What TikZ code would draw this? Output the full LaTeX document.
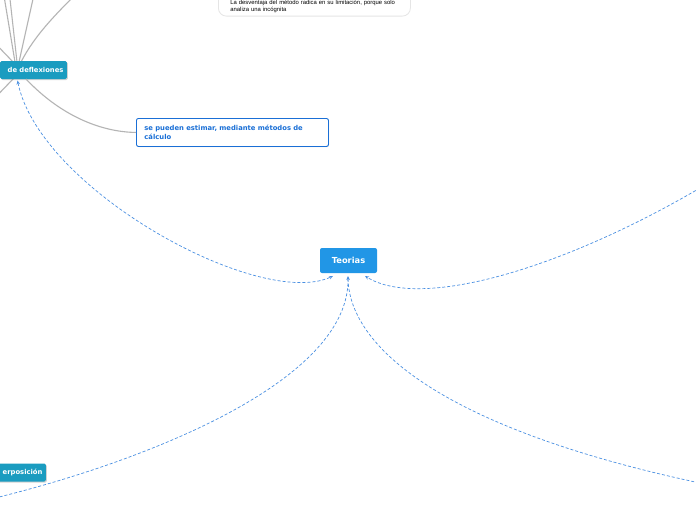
\documentclass[tikz,border=0pt]{standalone}
\usepackage{fontspec}
\setmainfont{DejaVu Sans}
\newfontfamily\smallfont{Liberation Sans}
\usetikzlibrary{arrows.meta,shadows}
\definecolor{tealbox}{HTML}{1A9CC0}
\definecolor{bluebox}{HTML}{2196E6}
\definecolor{blueline}{HTML}{4A90E2}
\definecolor{bluetext}{HTML}{1A6FD6}
\definecolor{grayline}{HTML}{B4B4B4}
\tikzset{
  topic/.style={fill=tealbox, text=white, font=\bfseries\fontsize{6.8}{7.5}\selectfont,
    rounded corners=1.5pt, inner ysep=0pt, minimum height=18pt,
    drop shadow={shadow xshift=1pt, shadow yshift=-1pt, opacity=0.35}},
  mainbox/.style={fill=bluebox, text=white, font=\bfseries\fontsize{8.3}{9}\selectfont,
    rounded corners=2pt, minimum width=57pt, minimum height=25pt, inner sep=0pt},
  subbox/.style={draw=bluetext, line width=0.9pt, fill=white, text=bluetext,
    font=\bfseries\fontsize{6.8}{8.5}\selectfont, rounded corners=2pt,
    minimum width=192pt, minimum height=28pt, text width=176pt, align=left,
    inner xsep=8pt, drop shadow={shadow xshift=0.6pt, shadow yshift=-0.6pt, opacity=0.25}},
  notebox/.style={draw=black!10, line width=0.8pt, rounded corners=8pt,
    font=\smallfont\fontsize{5.9}{7}\selectfont, text width=168pt, align=left,
    inner xsep=12pt, inner ysep=3pt},
  branch/.style={draw=grayline, line width=1.1pt},
  rel/.style={draw=blueline, line width=0.7pt, dash pattern=on 3pt off 2pt,
    -{Stealth[length=4pt,width=3.5pt,open]}},
  relboth/.style={rel, {Stealth[length=4pt,width=3.5pt,open]}-{Stealth[length=4pt,width=3.5pt,open]}},
  relstart/.style={draw=blueline, line width=0.7pt, dash pattern=on 3pt off 2pt,
    {Stealth[length=4pt,width=3.5pt]}-}
}
\begin{document}
\begin{tikzpicture}[x=1pt,y=-1pt]
\useasboundingbox[fill=white] (0,0) rectangle (696,520);

% note box partially visible at top
\node[notebox, anchor=south west, text height=30pt] (note) at (218,16.5)
  {La desventaja del método radica en su limitación, porque solo\\analiza una incógnita};

% hub coordinates
\coordinate (g1) at (3,-10);
\coordinate (g2) at (9,-10);
\coordinate (g3) at (35,-10);
\coordinate (g4) at (-10,38);
\coordinate (g5) at (-12,105);
\coordinate (g6) at (80,-10);

% gray branches
\draw[branch] (15,62) -- (g1);
\draw[branch] (17,62) -- (g2);
\draw[branch] (19,62) -- (g3);
\draw[branch] (15,64) -- (g4);
\draw[branch] (14,78) -- (g5);
\draw[branch] (21,62) .. controls (35,35) and (55,15) .. (g6);

% nodes
\node[topic, text width=60pt, align=right, anchor=east] (defl) at (67,70) {de deflexiones};
\node[topic, text width=42pt, align=right, anchor=east] (erp) at (46,472.5) {erposición};
\node[mainbox] (teo) at (348.5,260.5) {Teorias};
\node[subbox, anchor=north west] (est) at (136,118) {se pueden estimar, mediante métodos de\\cálculo};

\draw[branch] (26,79) .. controls (60,115) and (100,132) .. (est.west);

% coordinates for off-canvas endpoints
\coordinate (r1) at (700,188);
\coordinate (r2) at (700,483);
\coordinate (l1) at (-5,498);

% dashed relations
\draw[relboth] (17.5,80.5) .. controls (40,190) and (260,310) .. (333,276);
\draw[rel] (r1) .. controls (560,270) and (420,310) .. (365,276);
\draw[relstart] (348,276) .. controls (350,380) and (150,460) .. (l1);
\draw[draw=blueline, line width=0.7pt, dash pattern=on 3pt off 2pt] (348,279) .. controls (350,350) and (450,430) .. (r2);
\end{tikzpicture}
\end{document}
